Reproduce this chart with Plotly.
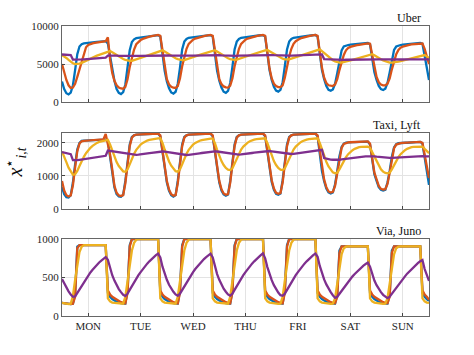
import plotly.graph_objects as go

# ---------------- data (hourly, 7 days: MON 00h .. SUN 24h) ----------------
hours = list(range(169))
day_ticks = [12, 36, 60, 84, 108, 132, 156]
day_labels = ["MON", "TUE", "WED", "THU", "FRI", "SAT", "SUN"]

uber_blue = [
    2700, 1700, 1150, 1000, 1250, 2200, 4200, 6300, 7300, 7600, 7700, 7750, 7800, 7820, 7850, 7880, 7900, 7920, 7950, 7980, 8000, 7700, 6100, 4200,
    2800, 1700, 1200, 1050, 1300, 2300, 4400, 6800, 7900, 8250, 8400, 8450, 8500, 8550, 8600, 8650, 8680, 8710, 8740, 8770, 8800, 8600, 6300, 4100,
    2700, 1800, 1250, 1100, 1350, 2400, 4500, 6900, 7950, 8300, 8450, 8500, 8550, 8600, 8620, 8650, 8680, 8710, 8740, 8770, 8800, 8600, 6300, 4100,
    2800, 1900, 1350, 1200, 1450, 2500, 4600, 6900, 7950, 8300, 8450, 8500, 8550, 8600, 8630, 8660, 8690, 8720, 8750, 8780, 8800, 8600, 6300, 4200,
    2900, 2000, 1500, 1360, 1600, 2600, 4700, 6900, 7950, 8300, 8450, 8500, 8550, 8600, 8630, 8660, 8690, 8720, 8750, 8780, 8820, 8600, 6300, 4200,
    3000, 2100, 1600, 1490, 1650, 2400, 3800, 5500, 6800, 7300, 7450, 7500, 7550, 7580, 7610, 7640, 7670, 7700, 7720, 7740, 7760, 7600, 5800, 3900,
    2900, 2100, 1700, 1580, 1750, 2500, 3900, 5600, 6850, 7300, 7450, 7500, 7550, 7580, 7610, 7640, 7670, 7700, 7720, 7740, 7760, 7650, 6300, 4500,
    2900,
]
uber_orange = [
    5000, 3900, 2900, 2200, 1850, 1900, 2400, 3300, 4300, 5400, 6500, 7200, 7500, 7650, 7720, 7780, 7830, 7870, 7910, 7950, 8000, 8500, 5600, 3800,
    2800, 2200, 1900, 1780, 1750, 2000, 3000, 4600, 5900, 6900, 7600, 7950, 8150, 8300, 8420, 8520, 8600, 8660, 8720, 8770, 8820, 8700, 6600, 4400,
    3000, 2300, 2000, 1880, 1850, 2100, 3100, 4700, 6000, 7000, 7650, 8000, 8200, 8350, 8450, 8550, 8620, 8680, 8730, 8780, 8820, 8700, 6600, 4400,
    3000, 2350, 2050, 1920, 1900, 2150, 3100, 4700, 6000, 7000, 7650, 8000, 8200, 8350, 8450, 8550, 8620, 8680, 8730, 8780, 8820, 8700, 6600, 4400,
    3100, 2400, 2100, 1970, 1950, 2200, 3200, 4700, 6000, 7000, 7650, 8000, 8200, 8350, 8450, 8550, 8620, 8680, 8730, 8780, 8820, 8700, 6600, 4500,
    3200, 2500, 2200, 2100, 2100, 2300, 3000, 4200, 5300, 6200, 6800, 7100, 7250, 7350, 7420, 7480, 7530, 7580, 7620, 7660, 7700, 7650, 6200, 4400,
    3300, 2600, 2300, 2200, 2200, 2400, 3100, 4300, 5400, 6300, 6850, 7150, 7300, 7400, 7470, 7520, 7570, 7610, 7650, 7690, 7720, 7700, 7000, 6000,
    5000,
]
uber_yellow = [
    6150, 6000, 5800, 5550, 5300, 5100, 5000, 5000, 5050, 5150, 5300, 5450, 5600, 5750, 5900, 6000, 6100, 6200, 6300, 6400, 6500, 6600, 6700, 6550,
    6350, 6150, 5950, 5800, 5650, 5550, 5450, 5400, 5420, 5500, 5600, 5700, 5800, 5900, 6000, 6100, 6200, 6300, 6400, 6500, 6600, 6700, 6800, 6650,
    6450, 6250, 6050, 5900, 5750, 5650, 5550, 5500, 5520, 5600, 5700, 5800, 5900, 6000, 6100, 6200, 6300, 6400, 6500, 6600, 6700, 6780, 6820, 6650,
    6450, 6250, 6050, 5900, 5750, 5650, 5570, 5550, 5570, 5650, 5750, 5850, 5950, 6050, 6150, 6250, 6350, 6450, 6550, 6650, 6720, 6800, 6840, 6680,
    6480, 6280, 6100, 5950, 5800, 5700, 5620, 5600, 5620, 5700, 5800, 5900, 6000, 6100, 6200, 6300, 6400, 6500, 6600, 6700, 6800, 6880, 6930, 6700,
    6450, 6200, 5950, 5700, 5500, 5350, 5230, 5180, 5170, 5220, 5300, 5380, 5460, 5540, 5620, 5700, 5780, 5860, 5940, 6020, 6120, 6250, 6300, 6150,
    5950, 5780, 5620, 5480, 5350, 5250, 5190, 5170, 5180, 5230, 5300, 5380, 5460, 5540, 5620, 5700, 5780, 5860, 5940, 6020, 6100, 6160, 6180, 6000,
    5800,
]
uber_purple = [
    6250, 6230, 6210, 6200, 6180, 5580, 5560, 5560, 5580, 5600, 5620, 5640, 5660, 5680, 5700, 5720, 5740, 5760, 5780, 5800, 5850, 6100, 6120, 6110,
    6100, 6090, 6080, 6070, 6060, 6050, 6040, 6040, 6040, 6050, 6060, 6070, 6080, 6090, 6100, 6110, 6120, 6130, 6140, 6150, 6170, 6180, 6180, 6160,
    6140, 6120, 6100, 6090, 6080, 6070, 6060, 6060, 6060, 6070, 6080, 6090, 6100, 6110, 6120, 6130, 6140, 6150, 6160, 6170, 6190, 6200, 6200, 6180,
    6160, 6140, 6120, 6110, 6100, 6090, 6080, 6080, 6080, 6090, 6100, 6110, 6120, 6130, 6140, 6150, 6160, 6170, 6180, 6190, 6210, 6220, 6220, 6200,
    6180, 6160, 6140, 6130, 6120, 6110, 6100, 6100, 6100, 6110, 6120, 6130, 6140, 6150, 6160, 6170, 6180, 6190, 6200, 6210, 6230, 6250, 6260, 6260,
    5650, 5630, 5610, 5590, 5570, 5560, 5550, 5540, 5540, 5550, 5560, 5570, 5580, 5590, 5600, 5610, 5620, 5630, 5640, 5650, 5660, 5670, 5670, 5660,
    5640, 5620, 5600, 5590, 5580, 5570, 5560, 5550, 5550, 5560, 5570, 5580, 5590, 5600, 5610, 5620, 5630, 5640, 5650, 5660, 5670, 5670, 5660, 5640,
    5620,
]

taxi_blue = [
    660, 450, 360, 350, 420, 800, 1350, 1800, 2000, 2060, 2070, 2075, 2080, 2080, 2085, 2085, 2090, 2090, 2095, 2100, 2100, 2050, 1600, 1150,
    650, 450, 380, 370, 430, 850, 1450, 1950, 2180, 2230, 2250, 2255, 2260, 2265, 2270, 2270, 2275, 2275, 2280, 2280, 2280, 2200, 1700, 1150,
    800, 550, 420, 375, 420, 850, 1450, 1950, 2180, 2230, 2250, 2255, 2260, 2265, 2270, 2270, 2275, 2275, 2280, 2280, 2280, 2200, 1700, 1150,
    800, 560, 440, 400, 440, 850, 1450, 1950, 2180, 2230, 2250, 2255, 2260, 2265, 2270, 2270, 2275, 2275, 2280, 2280, 2280, 2200, 1700, 1150,
    820, 580, 460, 430, 470, 870, 1450, 1950, 2180, 2230, 2250, 2255, 2260, 2265, 2270, 2270, 2275, 2275, 2280, 2280, 2280, 2200, 1700, 1150,
    840, 620, 500, 470, 500, 750, 1150, 1600, 1880, 1980, 2010, 2020, 2020, 2025, 2025, 2030, 2030, 2035, 2035, 2040, 2040, 1950, 1500, 1050,
    850, 660, 580, 560, 580, 800, 1150, 1580, 1860, 1960, 1990, 2000, 2000, 2005, 2005, 2010, 2010, 2015, 2020, 2025, 2030, 1980, 1600, 1150,
    730,
]
taxi_orange = [
    850, 560, 420, 380, 410, 720, 1250, 1750, 1980, 2050, 2065, 2070, 2075, 2080, 2080, 2085, 2090, 2095, 2100, 2110, 2270, 2000, 1650, 1200,
    700, 490, 410, 390, 420, 780, 1380, 1900, 2160, 2230, 2250, 2255, 2260, 2265, 2270, 2270, 2275, 2275, 2280, 2280, 2285, 2230, 1760, 1220,
    850, 590, 450, 400, 420, 780, 1380, 1900, 2160, 2230, 2250, 2255, 2260, 2265, 2270, 2270, 2275, 2275, 2280, 2280, 2285, 2230, 1760, 1220,
    850, 600, 470, 430, 450, 790, 1380, 1900, 2160, 2230, 2250, 2255, 2260, 2265, 2270, 2270, 2275, 2275, 2280, 2280, 2285, 2230, 1760, 1220,
    870, 620, 490, 460, 480, 800, 1380, 1900, 2160, 2230, 2250, 2255, 2260, 2265, 2270, 2270, 2275, 2275, 2280, 2280, 2285, 2230, 1760, 1220,
    890, 660, 530, 500, 520, 700, 1080, 1550, 1850, 1970, 2005, 2015, 2020, 2025, 2025, 2030, 2030, 2035, 2035, 2040, 2045, 1980, 1560, 1100,
    900, 700, 610, 590, 600, 760, 1100, 1540, 1840, 1950, 1985, 1995, 2000, 2005, 2005, 2010, 2010, 2015, 2020, 2025, 2030, 2000, 1680, 1250,
    940,
]
taxi_yellow = [
    1740, 1600, 1420, 1250, 1120, 1040, 1050, 1150, 1300, 1450, 1580, 1690, 1780, 1850, 1910, 1960, 2000, 2030, 2050, 2070, 2080, 2090, 1950, 1750,
    1560, 1420, 1300, 1200, 1140, 1130, 1200, 1350, 1520, 1670, 1790, 1880, 1950, 2000, 2040, 2070, 2090, 2105, 2115, 2125, 2135, 2140, 2000, 1800,
    1600, 1440, 1310, 1210, 1145, 1130, 1200, 1350, 1520, 1670, 1790, 1880, 1950, 2000, 2040, 2065, 2085, 2100, 2110, 2120, 2128, 2130, 1990, 1790,
    1600, 1450, 1330, 1240, 1190, 1180, 1230, 1370, 1530, 1680, 1800, 1890, 1960, 2010, 2050, 2080, 2100, 2115, 2125, 2132, 2138, 2140, 2000, 1800,
    1600, 1450, 1330, 1240, 1190, 1180, 1230, 1370, 1530, 1680, 1800, 1890, 1960, 2010, 2050, 2080, 2100, 2115, 2125, 2132, 2138, 2140, 2000, 1800,
    1600, 1430, 1290, 1180, 1110, 1080, 1100, 1200, 1330, 1460, 1570, 1660, 1730, 1780, 1820, 1850, 1870, 1880, 1885, 1890, 1890, 1850, 1720, 1560,
    1420, 1300, 1200, 1130, 1090, 1080, 1100, 1200, 1330, 1460, 1570, 1660, 1730, 1780, 1820, 1850, 1870, 1880, 1885, 1890, 1890, 1890, 1820, 1750,
    1690,
]
taxi_purple = [
    1720, 1710, 1700, 1680, 1660, 1480, 1470, 1480, 1490, 1500, 1510, 1520, 1530, 1540, 1550, 1560, 1570, 1580, 1590, 1600, 1610, 1770, 1760, 1750,
    1740, 1730, 1715, 1700, 1690, 1675, 1660, 1650, 1640, 1640, 1640, 1645, 1650, 1660, 1670, 1680, 1690, 1700, 1710, 1720, 1730, 1740, 1740, 1735,
    1725, 1715, 1700, 1690, 1680, 1665, 1650, 1640, 1635, 1635, 1640, 1645, 1655, 1665, 1675, 1685, 1695, 1705, 1715, 1725, 1735, 1745, 1745, 1740,
    1730, 1720, 1705, 1695, 1685, 1670, 1660, 1650, 1645, 1645, 1650, 1655, 1665, 1675, 1685, 1695, 1705, 1715, 1725, 1735, 1745, 1755, 1760, 1755,
    1745, 1735, 1720, 1710, 1700, 1690, 1680, 1670, 1665, 1665, 1670, 1680, 1690, 1700, 1710, 1720, 1730, 1740, 1750, 1760, 1770, 1780, 1790, 1790,
    1540, 1520, 1505, 1495, 1490, 1485, 1485, 1490, 1500, 1510, 1520, 1530, 1540, 1550, 1560, 1570, 1575, 1580, 1585, 1590, 1595, 1600, 1600, 1595,
    1585, 1575, 1565, 1555, 1550, 1545, 1545, 1550, 1555, 1560, 1565, 1570, 1575, 1580, 1585, 1590, 1595, 1600, 1605, 1605, 1605, 1600, 1595, 1592,
    1590,
]

via_blue = [
    170, 165, 160, 155, 155, 160, 280, 900, 920, 920, 920, 920, 920, 920, 920, 920, 920, 920, 920, 920, 920, 300, 250, 220,
    200, 185, 175, 165, 160, 160, 330, 920, 1000, 1000, 1000, 1000, 1000, 1000, 1000, 1000, 1000, 1000, 1000, 1000, 1000, 300, 250, 220,
    200, 185, 175, 165, 160, 160, 330, 920, 1000, 1000, 1000, 1000, 1000, 1000, 1000, 1000, 1000, 1000, 1000, 1000, 1000, 300, 250, 220,
    200, 185, 175, 165, 160, 160, 330, 920, 1000, 1000, 1000, 1000, 1000, 1000, 1000, 1000, 1000, 1000, 1000, 1000, 1000, 300, 250, 220,
    200, 185, 175, 165, 160, 160, 330, 920, 1000, 1000, 1000, 1000, 1000, 1000, 1000, 1000, 1000, 1000, 1000, 1000, 1000, 300, 250, 220,
    200, 185, 175, 165, 160, 160, 280, 850, 905, 905, 905, 905, 905, 905, 905, 905, 905, 905, 905, 905, 905, 300, 250, 220,
    200, 185, 175, 165, 160, 160, 280, 850, 905, 905, 905, 905, 905, 905, 905, 905, 905, 905, 905, 905, 905, 300, 250, 220,
    195,
]
via_orange = [
    170, 165, 160, 155, 155, 160, 250, 880, 920, 920, 920, 920, 920, 920, 920, 920, 920, 920, 920, 920, 920, 330, 280, 250,
    230, 210, 195, 180, 170, 165, 300, 900, 1000, 1000, 1000, 1000, 1000, 1000, 1000, 1000, 1000, 1000, 1000, 1000, 1000, 330, 280, 250,
    230, 210, 195, 180, 170, 165, 300, 900, 1000, 1000, 1000, 1000, 1000, 1000, 1000, 1000, 1000, 1000, 1000, 1000, 1000, 330, 280, 250,
    230, 210, 195, 180, 170, 165, 300, 900, 1000, 1000, 1000, 1000, 1000, 1000, 1000, 1000, 1000, 1000, 1000, 1000, 1000, 330, 280, 250,
    230, 210, 195, 180, 170, 165, 300, 900, 1000, 1000, 1000, 1000, 1000, 1000, 1000, 1000, 1000, 1000, 1000, 1000, 1000, 330, 280, 250,
    230, 210, 195, 180, 170, 165, 250, 820, 905, 905, 905, 905, 905, 905, 905, 905, 905, 905, 905, 905, 905, 330, 280, 250,
    230, 210, 195, 180, 170, 165, 250, 820, 905, 905, 905, 905, 905, 905, 905, 905, 905, 905, 905, 905, 905, 330, 280, 250,
    210,
]
via_yellow = [
    170, 165, 160, 155, 160, 260, 470, 680, 830, 900, 920, 920, 920, 920, 920, 920, 920, 920, 920, 920, 920, 230, 190, 175,
    170, 165, 160, 158, 160, 250, 460, 680, 850, 950, 990, 1000, 1000, 1000, 1000, 1000, 1000, 1000, 1000, 1000, 1000, 230, 190, 175,
    170, 165, 160, 158, 160, 250, 460, 680, 850, 950, 990, 1000, 1000, 1000, 1000, 1000, 1000, 1000, 1000, 1000, 1000, 230, 190, 175,
    170, 165, 160, 158, 160, 250, 460, 680, 850, 950, 990, 1000, 1000, 1000, 1000, 1000, 1000, 1000, 1000, 1000, 1000, 230, 190, 175,
    170, 165, 160, 158, 160, 250, 460, 680, 850, 950, 990, 1000, 1000, 1000, 1000, 1000, 1000, 1000, 1000, 1000, 1000, 230, 190, 175,
    170, 165, 160, 158, 160, 230, 420, 640, 800, 880, 900, 905, 905, 905, 905, 905, 905, 905, 905, 905, 905, 230, 190, 175,
    170, 165, 160, 158, 160, 230, 420, 640, 800, 880, 900, 905, 905, 905, 905, 905, 905, 905, 905, 905, 905, 230, 190, 175,
    170,
]
via_purple = [
    480, 420, 365, 320, 280, 250, 255, 300, 350, 400, 445, 490, 530, 565, 600, 635, 665, 695, 720, 745, 765, 730, 620, 530,
    460, 400, 350, 310, 275, 260, 290, 340, 390, 440, 485, 530, 570, 610, 645, 680, 710, 740, 765, 790, 810, 760, 640, 545,
    470, 405, 355, 315, 280, 262, 290, 340, 390, 440, 485, 530, 570, 610, 645, 680, 710, 740, 765, 790, 810, 760, 640, 545,
    470, 405, 355, 315, 280, 262, 290, 340, 390, 440, 485, 530, 570, 610, 645, 680, 710, 740, 765, 790, 814, 750, 635, 540,
    465, 400, 350, 305, 270, 262, 290, 340, 390, 440, 485, 530, 570, 610, 645, 680, 710, 740, 765, 790, 810, 770, 650, 550,
    475, 410, 355, 310, 270, 235, 250, 290, 330, 370, 410, 445, 480, 515, 545, 575, 605, 630, 655, 675, 692, 640, 540, 460,
    400, 350, 310, 275, 248, 232, 250, 290, 330, 370, 410, 445, 480, 515, 550, 580, 610, 640, 665, 690, 710, 727, 610, 525,
    455,
]

panel_titles = ["Uber", "Taxi, Lyft", "Via, Juno"]
y_ranges = [[0, 10000], [0, 2300], [0, 1000]]
y_ticks = [[0, 5000, 10000], [0, 1000, 2000], [0, 500, 1000]]
y_ticktext = [["0", "5000", "10000"], ["0", "1000", "2000"], ["0", "500", "1000"]]
series_colors = ["#0072BD", "#D95319", "#EDB120", "#7E2F8E"]

panels = [
    [uber_blue, uber_orange, uber_yellow, uber_purple],
    [taxi_blue, taxi_orange, taxi_yellow, taxi_purple],
    [via_blue, via_orange, via_yellow, via_purple],
]

# ---------------- figure ----------------
W, H = 474, 355
ML, MR, MT, MB = 62, 45, 26, 39
plot_h = H - MT - MB
panel_px = [(26, 102), (133, 209), (239, 316)]
domains = [[(H - MB - b) / plot_h, (H - MB - t) / plot_h] for t, b in panel_px]

FONT = "Liberation Serif"
fig = go.Figure()

for i, series in enumerate(panels):
    xa = "x" if i == 0 else f"x{i+1}"
    ya = "y" if i == 0 else f"y{i+1}"
    for vals, col in zip(series, series_colors):
        fig.add_trace(go.Scatter(x=hours, y=vals, mode="lines",
                                 line=dict(color=col, width=2.3),
                                 xaxis=xa, yaxis=ya, showlegend=False,
                                 hoverinfo="skip"))

axis_common = dict(showline=True, linecolor="#666666", linewidth=1, mirror=True,
                   ticks="inside", ticklen=3, tickcolor="#444444",
                   showgrid=True, gridcolor="#e3e3e3", gridwidth=1,
                   zeroline=False, automargin=False,
                   tickfont=dict(family=FONT, size=11, color="#262626"))

layout = dict(width=W, height=H, margin=dict(l=ML, r=MR, t=MT, b=MB),
              paper_bgcolor="white", plot_bgcolor="white",
              font=dict(family=FONT, color="#262626"))
for i in range(3):
    xk = "xaxis" if i == 0 else f"xaxis{i+1}"
    yk = "yaxis" if i == 0 else f"yaxis{i+1}"
    ya = "y" if i == 0 else f"y{i+1}"
    xa = "x" if i == 0 else f"x{i+1}"
    xdict = dict(axis_common, domain=[0, 1], anchor=ya, range=[0, 168],
                 tickvals=day_ticks, showticklabels=(i == 2))
    if i == 2:
        xdict["ticktext"] = day_labels
    layout[xk] = xdict
    layout[yk] = dict(axis_common, domain=domains[i], anchor=xa,
                      range=y_ranges[i], tickvals=y_ticks[i], ticktext=y_ticktext[i])
fig.update_layout(**layout)

for i, t in enumerate(panel_titles):
    fig.add_annotation(text=t, xref="paper", yref="paper", x=0.985, y=domains[i][1],
                       xanchor="right", yanchor="bottom", showarrow=False,
                       font=dict(family=FONT, size=12, color="#111111"), yshift=-1)

fig.add_annotation(text="<i>x</i><sup>⋆</sup><sub><i>i,t</i></sub>",
                   xref="paper", yref="paper", x=-0.125, y=0.53,
                   xanchor="center", yanchor="middle", textangle=-90,
                   showarrow=False, font=dict(family=FONT, size=20, color="#111111"))

fig.write_html("out.html", config={"displayModeBar": False},
               post_script="document.body.style.margin='0';")
